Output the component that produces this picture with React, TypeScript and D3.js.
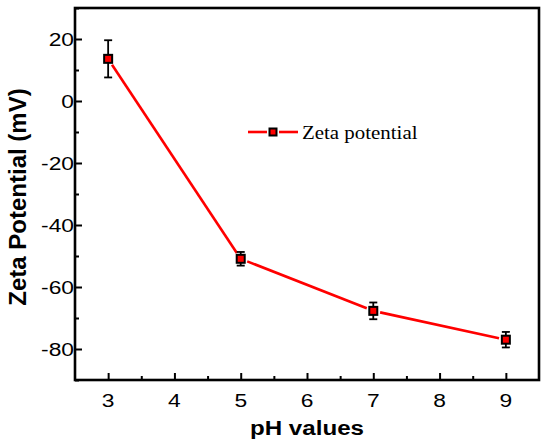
import { useRef, useEffect } from 'react';
import * as d3 from 'd3';

// Zeta potential vs pH
const phValues = [3, 5, 7, 9];
const zetaValues = [13.6, -50.9, -67.7, -77.0];
const zetaErrors = [6.0, 2.2, 2.7, 2.5];

const xTicks = [3, 4, 5, 6, 7, 8, 9];
const xMinorTicks = [3.5, 4.5, 5.5, 6.5, 7.5, 8.5];
const yTicks = [-80, -60, -40, -20, 0, 20];
const yMinorTicks = [-90, -70, -50, -30, -10, 10, 30];

const seriesName = 'Zeta potential';
const xTitle = 'pH values';
const yTitle = 'Zeta Potential (mV)';

export default function App() {
  const svgRef = useRef<SVGSVGElement>(null);

  useEffect(() => {
    document.body.style.margin = '0';
    if (!svgRef.current) return;

    const svg = d3.select(svgRef.current);
    svg.selectAll('*').remove();

    const width = 550;
    const height = 448;
    const left = 75;
    const right = 539;
    const top = 8;
    const bottom = 380;
    const sans = '"Liberation Sans", Arial, sans-serif';
    const serif = '"Liberation Serif", "Times New Roman", serif';
    const stretch = 1.2; // the original figure is a bit wider than tall

    svg.attr('width', width).attr('height', height);

    const x = d3.scaleLinear().domain([2.5, 9.5]).range([left, right]);
    const y = d3.scaleLinear().domain([-90, 30]).range([bottom, top]);

    // Axes: ticks pointing inward, labels drawn separately
    const xAxis = svg.append('g')
      .attr('transform', `translate(0,${bottom})`)
      .call(d3.axisTop(x).tickValues(xTicks).tickSize(7).tickFormat(() => ''));
    const xMinor = svg.append('g')
      .attr('transform', `translate(0,${bottom})`)
      .call(d3.axisTop(x).tickValues(xMinorTicks).tickSize(4).tickFormat(() => ''));
    const yAxis = svg.append('g')
      .attr('transform', `translate(${left},0)`)
      .call(d3.axisRight(y).tickValues(yTicks).tickSize(7).tickFormat(() => ''));
    const yMinor = svg.append('g')
      .attr('transform', `translate(${left},0)`)
      .call(d3.axisRight(y).tickValues(yMinorTicks).tickSize(4).tickFormat(() => ''));

    [xAxis, xMinor, yAxis, yMinor].forEach((a) => {
      a.select('.domain').remove();
      a.selectAll('line').attr('stroke', '#000').attr('stroke-width', 2);
    });

    // Frame
    svg.append('rect')
      .attr('x', left).attr('y', top)
      .attr('width', right - left).attr('height', bottom - top)
      .attr('fill', 'none').attr('stroke', '#000').attr('stroke-width', 2.6);

    // Tick labels
    svg.append('g').selectAll('text')
      .data(xTicks)
      .join('text')
      .attr('transform', (d) => `translate(${x(d)},${bottom + 26.5}) scale(${stretch},1)`)
      .attr('text-anchor', 'middle')
      .attr('font-family', sans).attr('font-size', 19)
      .text((d) => d);

    svg.append('g').selectAll('text')
      .data(yTicks)
      .join('text')
      .attr('transform', (d) => `translate(${left - 1},${y(d) + 6.8}) scale(${stretch},1)`)
      .attr('text-anchor', 'end')
      .attr('font-family', sans).attr('font-size', 19)
      .text((d) => d);

    // Axis titles
    svg.append('text')
      .attr('transform', `translate(307,435) scale(1.15,1)`)
      .attr('text-anchor', 'middle')
      .attr('font-family', sans).attr('font-size', 21).attr('font-weight', 'bold')
      .text(xTitle);

    svg.append('text')
      .attr('transform', 'translate(26,197) rotate(-90)')
      .attr('text-anchor', 'middle')
      .attr('font-family', sans).attr('font-size', 24).attr('font-weight', 'bold')
      .text(yTitle);

    const points = phValues.map((ph, i) => ({ ph, zeta: zetaValues[i], err: zetaErrors[i] }));
    const gap = 7;

    // Connecting line, broken around each marker
    const segs = d3.pairs(points).map(([a, b]) => {
      const x1 = x(a.ph), y1 = y(a.zeta), x2 = x(b.ph), y2 = y(b.zeta);
      const len = Math.hypot(x2 - x1, y2 - y1);
      const ux = (x2 - x1) / len, uy = (y2 - y1) / len;
      return { x1: x1 + ux * gap, y1: y1 + uy * gap, x2: x2 - ux * gap, y2: y2 - uy * gap };
    });
    svg.append('g').selectAll('line')
      .data(segs)
      .join('line')
      .attr('x1', (d) => d.x1).attr('y1', (d) => d.y1)
      .attr('x2', (d) => d.x2).attr('y2', (d) => d.y2)
      .attr('stroke', '#ff0000').attr('stroke-width', 2.6);

    // Error bars
    const eb = svg.append('g').attr('stroke', '#000').attr('stroke-width', 1.8);
    points.forEach((p) => {
      const cx = x(p.ph);
      eb.append('line')
        .attr('x1', cx).attr('x2', cx)
        .attr('y1', y(p.zeta + p.err)).attr('y2', y(p.zeta - p.err));
      [p.zeta + p.err, p.zeta - p.err].forEach((v) => {
        eb.append('line')
          .attr('x1', cx - 4).attr('x2', cx + 4)
          .attr('y1', y(v)).attr('y2', y(v));
      });
    });

    // Markers
    const ms = 8;
    svg.append('g').selectAll('rect')
      .data(points)
      .join('rect')
      .attr('x', (d) => x(d.ph) - ms / 2).attr('y', (d) => y(d.zeta) - ms / 2)
      .attr('width', ms).attr('height', ms)
      .attr('fill', '#ff0000').attr('stroke', '#000').attr('stroke-width', 2);

    // Legend
    const legend = svg.append('g').attr('transform', 'translate(248,132)');
    legend.append('line')
      .attr('x1', 0).attr('x2', 19).attr('y1', 0).attr('y2', 0)
      .attr('stroke', '#ff0000').attr('stroke-width', 2.6);
    legend.append('line')
      .attr('x1', 31).attr('x2', 50).attr('y1', 0).attr('y2', 0)
      .attr('stroke', '#ff0000').attr('stroke-width', 2.6);
    legend.append('rect')
      .attr('x', 25 - 3.5).attr('y', -3.5).attr('width', 7).attr('height', 7)
      .attr('fill', '#ff0000').attr('stroke', '#000').attr('stroke-width', 2);
    legend.append('text')
      .attr('transform', 'translate(54,6.5) scale(1.1,1)')
      .attr('font-family', serif).attr('font-size', 19)
      .text(seriesName);
  }, []);

  return <svg ref={svgRef} style={{ display: 'block' }} />;
}
